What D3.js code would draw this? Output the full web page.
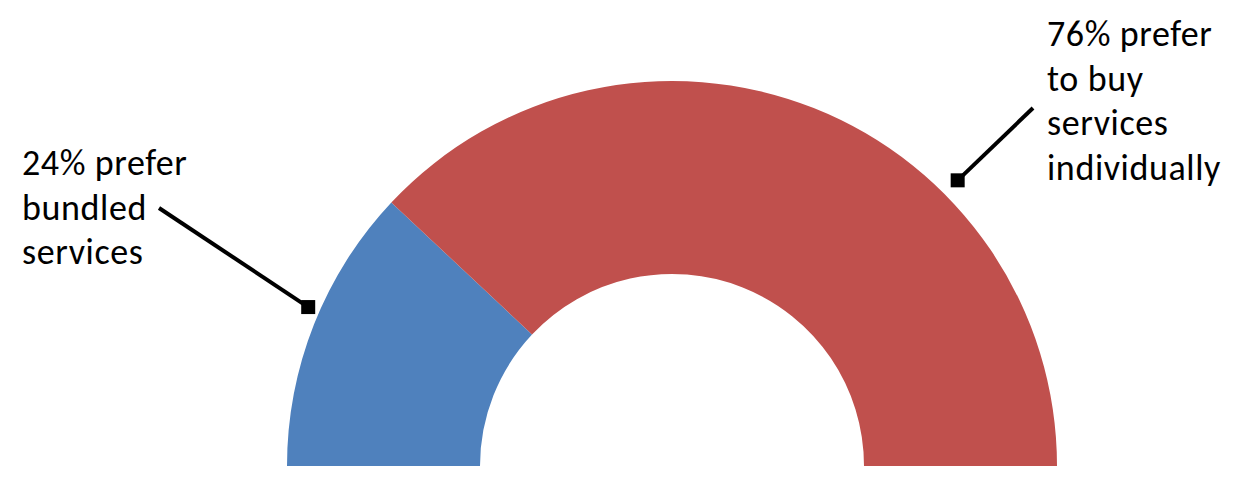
<!DOCTYPE html>
<html>
<head>
<meta charset="utf-8">
<script src="https://cdn.jsdelivr.net/npm/d3@7"></script>
<style>
	body { margin: 0; background: #fff; }
	.label { font-family: Carlito, Calibri, Lato, sans-serif; font-size: 36px; letter-spacing: 0.6px; fill: #000; }
</style>
</head>
<body>
<div id="root"></div>
<script>
// share of respondents
const categories = ["Bundled", "Individually"];
const values = [24, 76];
const colors = ["#4F81BD", "#C0504D"];
const labelLines = [
	["24% prefer", "bundled", "services"],
	["76% prefer", "to buy", "services", "individually"]
];

function whenDocumentLoaded(action) {
	if (document.readyState === "loading") {
		document.addEventListener("DOMContentLoaded", action);
	} else {
		action();
	}
}

function drawHalfDonut() {
	const width = 1248;
	const height = 490;
	const cx = 672, cy = 466;
	const outer = 385, inner = 192;

	let svg = d3.select("#root")
				.append("svg")
				.attr("width", width)
				.attr("height", height);

	let pie = d3.pie()
		.sort(null)
		.startAngle(-Math.PI / 2)
		.endAngle(Math.PI / 2)
		.value(d => d);

	let arc = d3.arc().innerRadius(inner).outerRadius(outer);
	let arcs = pie(values);

	let g = svg.append("g").attr("transform", `translate(${cx},${cy})`);

	g.selectAll(".slice")
		.data(arcs)
		.enter()
		.append("path")
		.attr("class", (d, i) => "slice " + categories[i])
		.attr("d", arc)
		.attr("fill", (d, i) => colors[i]);

	// leader lines: marker angle (d3 convention, 0 = up) and radius, then text end point
	const deg = Math.PI / 180;
	const leaders = [
		{angle: -90 * deg + 23.6 * deg, r: 397, end: [159, 208]},
		{angle: 45 * deg, r: 404, end: [1033, 108]}
	];
	const labelPos = [
		{x: 22, y: 175},
		{x: 1047, y: 46}
	];

	leaders.forEach((l, i) => {
		let mx = cx + l.r * Math.sin(l.angle);
		let my = cy - l.r * Math.cos(l.angle);
		svg.append("line")
			.attr("x1", l.end[0]).attr("y1", l.end[1])
			.attr("x2", mx).attr("y2", my)
			.attr("stroke", "#000")
			.attr("stroke-width", 4);
		svg.append("rect")
			.attr("x", mx - 7).attr("y", my - 7)
			.attr("width", 14).attr("height", 14)
			.attr("fill", "#000");
	});

	labelLines.forEach((lines, i) => {
		let t = svg.append("text")
			.attr("class", "label")
			.attr("x", labelPos[i].x)
			.attr("y", labelPos[i].y);
		lines.forEach((s, j) => {
			t.append("tspan")
				.attr("x", labelPos[i].x)
				.attr("dy", j === 0 ? 0 : 44.5)
				.text(s);
		});
	});
}

whenDocumentLoaded(() => {
	drawHalfDonut();
});
</script>
</body>
</html>
